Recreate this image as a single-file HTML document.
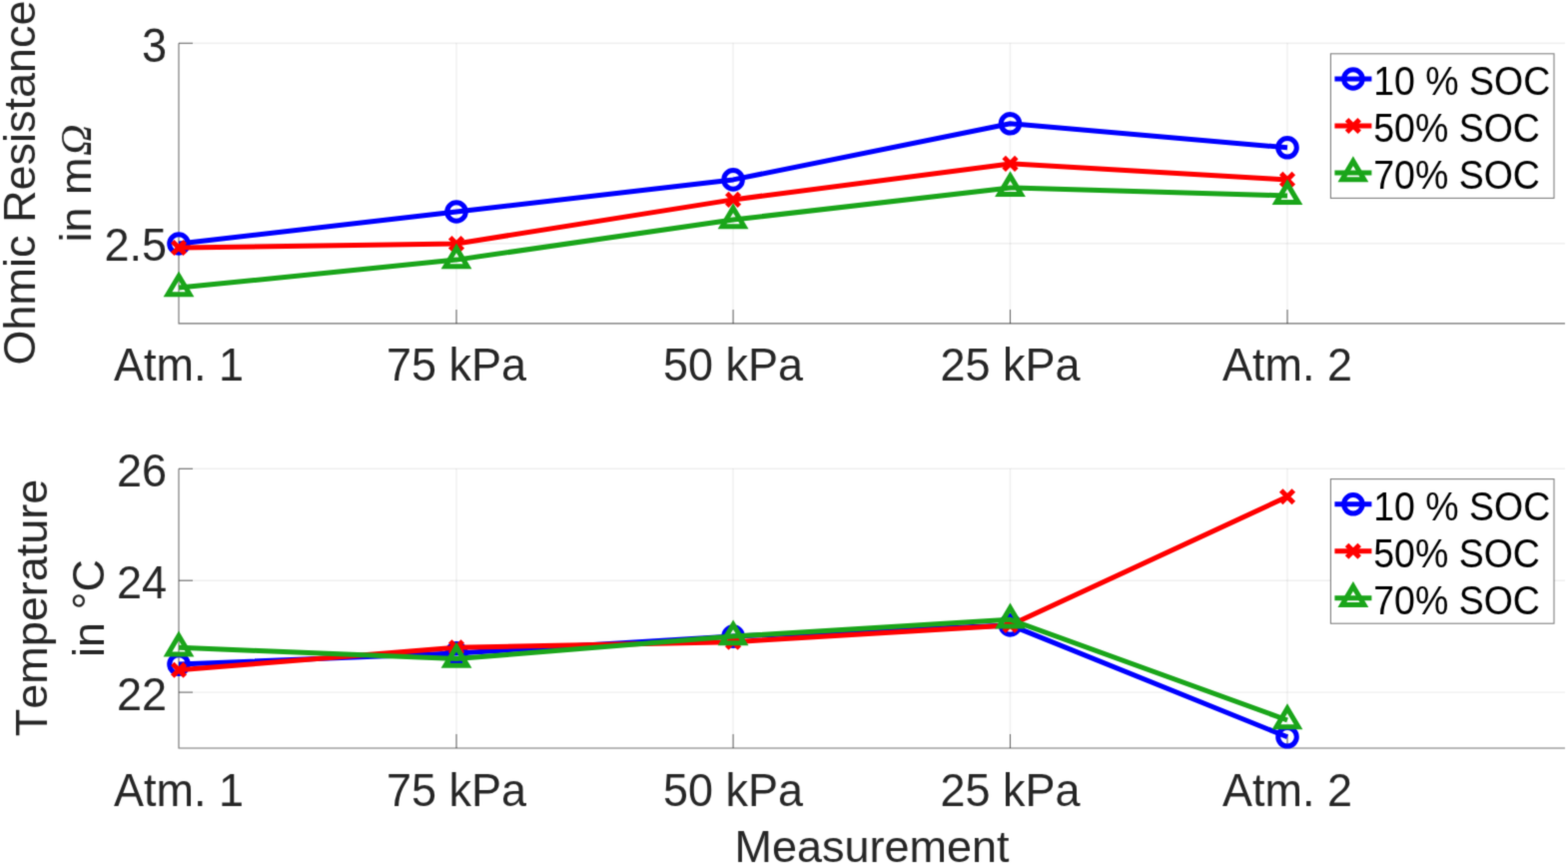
<!DOCTYPE html>
<html lang="en"><head><meta charset="utf-8"><title>Ohmic Resistance and Temperature vs Measurement</title>
<style>
html,body{margin:0;padding:0;background:#fff;}
body{width:1570px;height:868px;overflow:hidden;}
svg{display:block;}
text{font-family:"Liberation Sans",Arial,Helvetica,sans-serif;font-kerning:none;font-variant-ligatures:none;}
.tk{font-size:45px;fill:#262626;}
.lb{font-size:45px;fill:#262626;}
.lg{font-size:37.5px;fill:#000;}
.om{font-family:"Liberation Serif","DejaVu Serif",serif;font-style:italic;font-size:43.5px;}
</style></head>
<body>
<svg width="1570" height="868" viewBox="0 0 1570 868">
<defs><filter id="soft" filterUnits="userSpaceOnUse" x="0" y="0" width="1570" height="868" color-interpolation-filters="sRGB"><feConvolveMatrix order="3" kernelMatrix="1 4 1 4 16 4 1 4 1" divisor="36" edgeMode="duplicate" preserveAlpha="true"/></filter></defs>
<g filter="url(#soft)">
<rect width="1570" height="868" fill="#fff"/>
<line x1="457.0" y1="43.3" x2="457.0" y2="323.9" stroke="#262626" stroke-opacity="0.075" stroke-width="1.4"/>
<line x1="734.1" y1="43.3" x2="734.1" y2="323.9" stroke="#262626" stroke-opacity="0.075" stroke-width="1.4"/>
<line x1="1011.5" y1="43.3" x2="1011.5" y2="323.9" stroke="#262626" stroke-opacity="0.075" stroke-width="1.4"/>
<line x1="1289.0" y1="43.3" x2="1289.0" y2="323.9" stroke="#262626" stroke-opacity="0.075" stroke-width="1.4"/>
<line x1="179.0" y1="43.3" x2="1567" y2="43.3" stroke="#262626" stroke-opacity="0.075" stroke-width="1.4"/>
<line x1="179.0" y1="243.7" x2="1567" y2="243.7" stroke="#262626" stroke-opacity="0.075" stroke-width="1.4"/>
<path d="M179.0 43.3V323.9H1567" fill="none" stroke="#262626" stroke-opacity="0.66" stroke-width="1.1"/>
<line x1="457.0" y1="323.9" x2="457.0" y2="309.9" stroke="#262626" stroke-opacity="0.66" stroke-width="1.1"/>
<line x1="734.1" y1="323.9" x2="734.1" y2="309.9" stroke="#262626" stroke-opacity="0.66" stroke-width="1.1"/>
<line x1="1011.5" y1="323.9" x2="1011.5" y2="309.9" stroke="#262626" stroke-opacity="0.66" stroke-width="1.1"/>
<line x1="1289.0" y1="323.9" x2="1289.0" y2="309.9" stroke="#262626" stroke-opacity="0.66" stroke-width="1.1"/>
<line x1="179.0" y1="43.3" x2="193.0" y2="43.3" stroke="#262626" stroke-opacity="0.66" stroke-width="1.1"/>
<text transform="translate(167.0,62.0) scale(1,1.065)" text-anchor="end" class="tk">3</text>
<line x1="179.0" y1="243.7" x2="193.0" y2="243.7" stroke="#262626" stroke-opacity="0.66" stroke-width="1.1"/>
<text transform="translate(167.0,261.2) scale(1,1.03)" text-anchor="end" class="tk">2.5</text>
<text transform="translate(179.0,381.2) scale(1,1.025)" text-anchor="middle" class="tk">Atm. 1</text>
<text transform="translate(457.0,381.2) scale(1,1.025)" text-anchor="middle" class="tk">75 kPa</text>
<text transform="translate(734.1,381.2) scale(1,1.025)" text-anchor="middle" class="tk">50 kPa</text>
<text transform="translate(1011.5,381.2) scale(1,1.025)" text-anchor="middle" class="tk">25 kPa</text>
<text transform="translate(1289.0,381.2) scale(1,1.025)" text-anchor="middle" class="tk">Atm. 2</text>
<polyline points="179.0,244.0 457.0,212.0 734.1,179.9 1011.5,123.8 1289.0,147.8" fill="none" stroke="#0000ff" stroke-width="5.0" stroke-linejoin="round"/>
<circle cx="179.0" cy="244.0" r="9.3" fill="none" stroke="#0000ff" stroke-width="5.0"/>
<circle cx="457.0" cy="212.0" r="9.3" fill="none" stroke="#0000ff" stroke-width="5.0"/>
<circle cx="734.1" cy="179.9" r="9.3" fill="none" stroke="#0000ff" stroke-width="5.0"/>
<circle cx="1011.5" cy="123.8" r="9.3" fill="none" stroke="#0000ff" stroke-width="5.0"/>
<circle cx="1289.0" cy="147.8" r="9.3" fill="none" stroke="#0000ff" stroke-width="5.0"/>
<polyline points="179.0,248.0 457.0,244.0 734.1,199.9 1011.5,163.9 1289.0,179.9" fill="none" stroke="#ff0000" stroke-width="5.0" stroke-linejoin="round"/>
<path d="M172.7 241.7L185.3 254.3M172.7 254.3L185.3 241.7" fill="none" stroke="#ff0000" stroke-width="5.0"/>
<path d="M450.7 237.7L463.3 250.3M450.7 250.3L463.3 237.7" fill="none" stroke="#ff0000" stroke-width="5.0"/>
<path d="M727.8 193.6L740.4 206.2M727.8 206.2L740.4 193.6" fill="none" stroke="#ff0000" stroke-width="5.0"/>
<path d="M1005.2 157.6L1017.8 170.2M1005.2 170.2L1017.8 157.6" fill="none" stroke="#ff0000" stroke-width="5.0"/>
<path d="M1282.7 173.6L1295.3 186.2M1282.7 186.2L1295.3 173.6" fill="none" stroke="#ff0000" stroke-width="5.0"/>
<polyline points="179.0,288.1 457.0,260.1 734.1,220.0 1011.5,187.9 1289.0,195.9" fill="none" stroke="#1aa51a" stroke-width="5.0" stroke-linejoin="round"/>
<path d="M179.0 276.3L190.0 294.8L168.0 294.8Z" fill="none" stroke="#1aa51a" stroke-width="5.0" stroke-linejoin="miter"/>
<path d="M457.0 248.3L468.0 266.8L446.0 266.8Z" fill="none" stroke="#1aa51a" stroke-width="5.0" stroke-linejoin="miter"/>
<path d="M734.1 208.2L745.1 226.7L723.1 226.7Z" fill="none" stroke="#1aa51a" stroke-width="5.0" stroke-linejoin="miter"/>
<path d="M1011.5 176.1L1022.5 194.6L1000.5 194.6Z" fill="none" stroke="#1aa51a" stroke-width="5.0" stroke-linejoin="miter"/>
<path d="M1289.0 184.1L1300.0 202.6L1278.0 202.6Z" fill="none" stroke="#1aa51a" stroke-width="5.0" stroke-linejoin="miter"/>
<rect x="1332.4" y="53.8" width="223.6" height="144.6" fill="#fff" stroke="#262626" stroke-opacity="0.6" stroke-width="1.1"/>
<line x1="1336.4" y1="79.0" x2="1373.4" y2="79.0" stroke="#0000ff" stroke-width="5.0"/>
<circle cx="1354.9" cy="79.0" r="9.3" fill="none" stroke="#0000ff" stroke-width="5.0"/>
<text transform="translate(1375.2,95.1) scale(1,1.09)" text-anchor="start" class="lg">10 % SOC</text>
<line x1="1336.4" y1="126.0" x2="1373.4" y2="126.0" stroke="#ff0000" stroke-width="5.0"/>
<path d="M1348.6 119.7L1361.2 132.3M1348.6 132.3L1361.2 119.7" fill="none" stroke="#ff0000" stroke-width="5.0"/>
<text transform="translate(1375.2,142.1) scale(1,1.09)" text-anchor="start" class="lg">50% SOC</text>
<line x1="1336.4" y1="173.0" x2="1373.4" y2="173.0" stroke="#1aa51a" stroke-width="5.0"/>
<path d="M1354.9 161.2L1365.9 179.7L1343.9 179.7Z" fill="none" stroke="#1aa51a" stroke-width="5.0" stroke-linejoin="miter"/>
<text transform="translate(1375.2,189.1) scale(1,1.09)" text-anchor="start" class="lg">70% SOC</text>
<text transform="translate(35.4,183.0) rotate(-90) scale(1,1.0)" text-anchor="middle" class="lb">Ohmic Resistance</text>
<text transform="translate(90.9,183.6) rotate(-90) scale(1,1.0)" text-anchor="middle" class="lb">in m<tspan class="om" dx="1.5">Ω</tspan></text>
<line x1="457.0" y1="469.3" x2="457.0" y2="749.0" stroke="#262626" stroke-opacity="0.075" stroke-width="1.4"/>
<line x1="734.1" y1="469.3" x2="734.1" y2="749.0" stroke="#262626" stroke-opacity="0.075" stroke-width="1.4"/>
<line x1="1011.5" y1="469.3" x2="1011.5" y2="749.0" stroke="#262626" stroke-opacity="0.075" stroke-width="1.4"/>
<line x1="1289.0" y1="469.3" x2="1289.0" y2="749.0" stroke="#262626" stroke-opacity="0.075" stroke-width="1.4"/>
<line x1="179.0" y1="469.3" x2="1567" y2="469.3" stroke="#262626" stroke-opacity="0.075" stroke-width="1.4"/>
<line x1="179.0" y1="581.2" x2="1567" y2="581.2" stroke="#262626" stroke-opacity="0.075" stroke-width="1.4"/>
<line x1="179.0" y1="693.1" x2="1567" y2="693.1" stroke="#262626" stroke-opacity="0.075" stroke-width="1.4"/>
<path d="M179.0 469.3V749.0H1567" fill="none" stroke="#262626" stroke-opacity="0.66" stroke-width="1.1"/>
<line x1="457.0" y1="749.0" x2="457.0" y2="735.0" stroke="#262626" stroke-opacity="0.66" stroke-width="1.1"/>
<line x1="734.1" y1="749.0" x2="734.1" y2="735.0" stroke="#262626" stroke-opacity="0.66" stroke-width="1.1"/>
<line x1="1011.5" y1="749.0" x2="1011.5" y2="735.0" stroke="#262626" stroke-opacity="0.66" stroke-width="1.1"/>
<line x1="1289.0" y1="749.0" x2="1289.0" y2="735.0" stroke="#262626" stroke-opacity="0.66" stroke-width="1.1"/>
<line x1="179.0" y1="469.3" x2="193.0" y2="469.3" stroke="#262626" stroke-opacity="0.66" stroke-width="1.1"/>
<text transform="translate(167.0,486.7) scale(1,1.03)" text-anchor="end" class="tk">26</text>
<line x1="179.0" y1="581.2" x2="193.0" y2="581.2" stroke="#262626" stroke-opacity="0.66" stroke-width="1.1"/>
<text transform="translate(167.0,598.6) scale(1,1.03)" text-anchor="end" class="tk">24</text>
<line x1="179.0" y1="693.1" x2="193.0" y2="693.1" stroke="#262626" stroke-opacity="0.66" stroke-width="1.1"/>
<text transform="translate(167.0,710.5) scale(1,1.03)" text-anchor="end" class="tk">22</text>
<text transform="translate(179.0,806.9) scale(1,1.025)" text-anchor="middle" class="tk">Atm. 1</text>
<text transform="translate(457.0,806.9) scale(1,1.025)" text-anchor="middle" class="tk">75 kPa</text>
<text transform="translate(734.1,806.9) scale(1,1.025)" text-anchor="middle" class="tk">50 kPa</text>
<text transform="translate(1011.5,806.9) scale(1,1.025)" text-anchor="middle" class="tk">25 kPa</text>
<text transform="translate(1289.0,806.9) scale(1,1.025)" text-anchor="middle" class="tk">Atm. 2</text>
<polyline points="179.0,665.1 457.0,653.9 734.1,637.1 1011.5,625.9 1289.0,737.8" fill="none" stroke="#0000ff" stroke-width="5.0" stroke-linejoin="round"/>
<circle cx="179.0" cy="665.1" r="9.3" fill="none" stroke="#0000ff" stroke-width="5.0"/>
<circle cx="457.0" cy="653.9" r="9.3" fill="none" stroke="#0000ff" stroke-width="5.0"/>
<circle cx="734.1" cy="637.1" r="9.3" fill="none" stroke="#0000ff" stroke-width="5.0"/>
<circle cx="1011.5" cy="625.9" r="9.3" fill="none" stroke="#0000ff" stroke-width="5.0"/>
<circle cx="1289.0" cy="737.8" r="9.3" fill="none" stroke="#0000ff" stroke-width="5.0"/>
<polyline points="179.0,670.7 457.0,648.3 734.1,642.7 1011.5,625.9 1289.0,497.3" fill="none" stroke="#ff0000" stroke-width="5.0" stroke-linejoin="round"/>
<path d="M172.7 664.4L185.3 677.0M172.7 677.0L185.3 664.4" fill="none" stroke="#ff0000" stroke-width="5.0"/>
<path d="M450.7 642.0L463.3 654.6M450.7 654.6L463.3 642.0" fill="none" stroke="#ff0000" stroke-width="5.0"/>
<path d="M727.8 636.4L740.4 649.0M727.8 649.0L740.4 636.4" fill="none" stroke="#ff0000" stroke-width="5.0"/>
<path d="M1005.2 619.6L1017.8 632.2M1005.2 632.2L1017.8 619.6" fill="none" stroke="#ff0000" stroke-width="5.0"/>
<path d="M1282.7 491.0L1295.3 503.6M1282.7 503.6L1295.3 491.0" fill="none" stroke="#ff0000" stroke-width="5.0"/>
<polyline points="179.0,648.3 457.0,659.5 734.1,637.1 1011.5,620.3 1289.0,721.0" fill="none" stroke="#1aa51a" stroke-width="5.0" stroke-linejoin="round"/>
<path d="M179.0 636.5L190.0 655.0L168.0 655.0Z" fill="none" stroke="#1aa51a" stroke-width="5.0" stroke-linejoin="miter"/>
<path d="M457.0 647.7L468.0 666.2L446.0 666.2Z" fill="none" stroke="#1aa51a" stroke-width="5.0" stroke-linejoin="miter"/>
<path d="M734.1 625.3L745.1 643.8L723.1 643.8Z" fill="none" stroke="#1aa51a" stroke-width="5.0" stroke-linejoin="miter"/>
<path d="M1011.5 608.5L1022.5 627.0L1000.5 627.0Z" fill="none" stroke="#1aa51a" stroke-width="5.0" stroke-linejoin="miter"/>
<path d="M1289.0 709.2L1300.0 727.7L1278.0 727.7Z" fill="none" stroke="#1aa51a" stroke-width="5.0" stroke-linejoin="miter"/>
<rect x="1332.4" y="479.6" width="223.6" height="144.6" fill="#fff" stroke="#262626" stroke-opacity="0.6" stroke-width="1.1"/>
<line x1="1336.4" y1="504.8" x2="1373.4" y2="504.8" stroke="#0000ff" stroke-width="5.0"/>
<circle cx="1354.9" cy="504.8" r="9.3" fill="none" stroke="#0000ff" stroke-width="5.0"/>
<text transform="translate(1375.2,521.1) scale(1,1.09)" text-anchor="start" class="lg">10 % SOC</text>
<line x1="1336.4" y1="551.8" x2="1373.4" y2="551.8" stroke="#ff0000" stroke-width="5.0"/>
<path d="M1348.6 545.5L1361.2 558.1M1348.6 558.1L1361.2 545.5" fill="none" stroke="#ff0000" stroke-width="5.0"/>
<text transform="translate(1375.2,568.1) scale(1,1.09)" text-anchor="start" class="lg">50% SOC</text>
<line x1="1336.4" y1="598.8" x2="1373.4" y2="598.8" stroke="#1aa51a" stroke-width="5.0"/>
<path d="M1354.9 587.0L1365.9 605.5L1343.9 605.5Z" fill="none" stroke="#1aa51a" stroke-width="5.0" stroke-linejoin="miter"/>
<text transform="translate(1375.2,615.1) scale(1,1.09)" text-anchor="start" class="lg">70% SOC</text>
<text transform="translate(47.0,608.5) rotate(-90) scale(1,1.0)" text-anchor="middle" class="lb">Temperature</text>
<text transform="translate(104.4,609.1) rotate(-90) scale(1,1.0)" text-anchor="middle" class="lb">in °C</text>
<text transform="translate(873.0,862.5) scale(1,1.0)" text-anchor="middle" class="lb">Measurement</text>
</g>
</svg>
</body></html>
